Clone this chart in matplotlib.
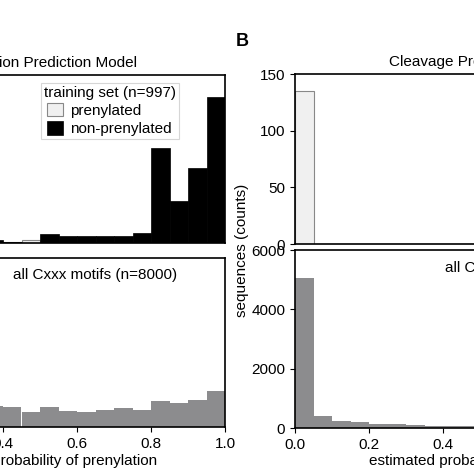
import matplotlib
matplotlib.use('Agg')
from matplotlib import pyplot as plt
import numpy as np

plt.rcParams['font.family'] = ['Liberation Sans', 'DejaVu Sans']
plt.rcParams['font.size'] = 10

# bins of width 0.05 from 0 to 1
bin_edges = np.arange(0, 1.0001, 0.05)

# panel A, training set (bins left of 0.35 are outside the crop)
train_prenyl = [0, 0, 0, 0, 0, 0, 0, 2, 1, 5, 1, 5, 2, 0, 0, 0, 0, 0, 0, 0]
train_nonprenyl = [0, 0, 0, 0, 0, 0, 0, 5, 2, 0, 14, 11, 11, 10, 10, 15, 141, 62, 111, 218]
# panel A, all motifs
all_a = [760, 760, 760, 760, 760, 760, 760, 756, 720, 540, 696, 564, 540, 600, 660, 600, 936, 840, 960, 1284]
# panel B
train_cleave = [135, 0, 0, 0, 0, 0, 0, 0, 0, 0, 0, 0, 0, 0, 0, 0, 0, 0, 0, 0]
all_b = [5050, 420, 250, 200, 150, 120, 90, 80, 70, 60, 55, 50, 45, 40, 35, 30, 30, 25, 25, 20]

W = H = 474.0
fig = plt.figure(figsize=(4.74, 4.74), dpi=100)


def px_axes(x0, y0, x1, y1):
    return fig.add_axes([x0 / W, 1 - y1 / H, (x1 - x0) / W, (y1 - y0) / H])


left = bin_edges[:-1]
wid = 0.05

ax1 = px_axes(-145, 75, 225, 243)
ax1.bar(left, train_prenyl, width=wid, align='edge', color='#f0f0f0', edgecolor='#888888', lw=0.8,
        label='prenylated')
ax1.bar(left, train_nonprenyl, width=wid, align='edge', color='black', edgecolor='black', lw=0.5,
        label='non-prenylated')
ax1.set_xlim(0, 1)
ax1.set_ylim(0, 250)
ax1.set_xticks([])
ax1.set_yticks([])
leg = ax1.legend(loc='upper left', bbox_to_anchor=(178 / 370, 1.0), title='training set (n=997)',
                 fontsize=11, title_fontsize=11, frameon=True, fancybox=False, edgecolor='#cccccc',
                 handlelength=1.0, handleheight=1.0, borderpad=0.2, labelspacing=0.2, handletextpad=0.5)
leg.get_frame().set_linewidth(0.8)
ax1.set_title('Prenylation Prediction Model', fontsize=11, pad=6)

ax2 = px_axes(-145, 258, 225, 427)
ax2.bar(left, all_a, width=wid, align='edge', color='#8c8c8e', edgecolor='none')
ax2.set_xlim(0, 1)
ax2.set_ylim(0, 6000)
ax2.set_yticks([])
ax2.set_xticks([0, 0.2, 0.4, 0.6, 0.8, 1.0])
ax2.set_xticklabels(['0.0', '0.2', '0.4', '0.6', '0.8', '1.0'], fontsize=11)
ax2.text(158 / 370, 0.9, 'all Cxxx motifs (n=8000)', transform=ax2.transAxes,
         fontsize=11, va='center')
ax2.set_xlabel('estimated probability of prenylation', fontsize=11, labelpad=2)

ax3 = px_axes(295, 74, 665, 244)
ax3.bar(left, train_cleave, width=wid, align='edge', color='#f0f0f0', edgecolor='#888888', lw=0.8)
ax3.set_xlim(0, 1)
ax3.set_ylim(0, 150)
ax3.set_xticks([])
ax3.set_yticks([0, 50, 100, 150])
ax3.tick_params(labelsize=11)
ax3.set_title('Cleavage Prediction Model', fontsize=11, pad=6)

ax4 = px_axes(295, 250, 665, 428)
ax4.bar(left, all_b, width=wid, align='edge', color='#8c8c8e', edgecolor='none')
ax4.set_xlim(0, 1)
ax4.set_ylim(0, 6000)
ax4.set_yticks([0, 2000, 4000, 6000])
ax4.set_xticks([0, 0.2, 0.4, 0.6, 0.8, 1.0])
ax4.set_xticklabels(['0.0', '0.2', '0.4', '0.6', '0.8', '1.0'])
ax4.tick_params(labelsize=11)
ax4.text(150 / 370, 0.9, 'all Cxxx motifs (n=8000)', transform=ax4.transAxes,
         fontsize=11, va='center')
ax4.set_xlabel('estimated probability of cleavage', fontsize=11, labelpad=2)

for ax in (ax1, ax2, ax3, ax4):
    for s in ax.spines.values():
        s.set_linewidth(1.2)

fig.text(242 / W, 1 - 250 / H, 'sequences (counts)', rotation=90, ha='center', va='center', fontsize=11)
fig.text(236 / W, 1 - 42 / H, 'B', fontsize=13, fontweight='bold', va='center')

fig.savefig('out.png', dpi=100)
